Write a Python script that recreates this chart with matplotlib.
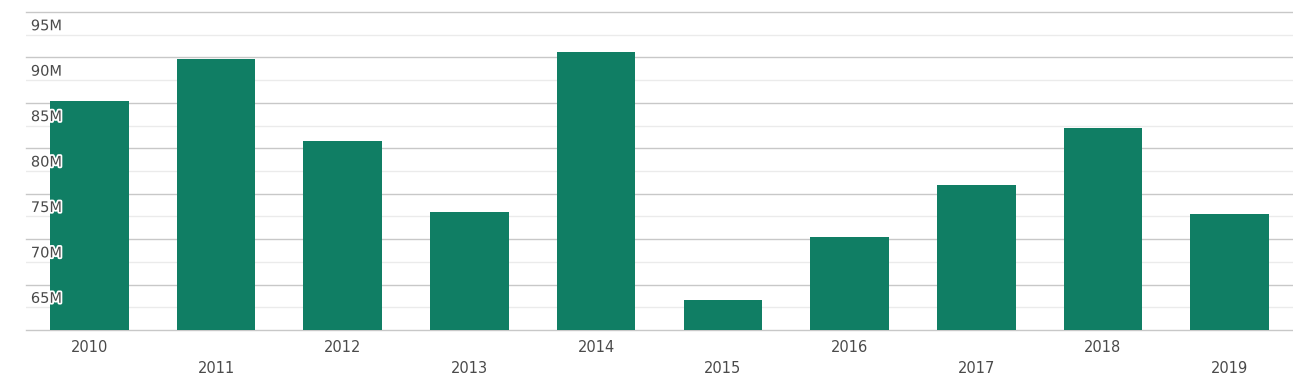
import matplotlib.pyplot as plt
import matplotlib.patheffects as pe
import numpy as np

# data
years = ['2010', '2011', '2012', '2013', '2014', '2015', '2016', '2017', '2018', '2019']
values = [85.2, 89.8, 80.8, 73.0, 90.6, 63.3, 70.2, 76.0, 82.2, 72.8]  # millions
y_ticks = [65, 70, 75, 80, 85, 90, 95]
y_minor = [62.5, 67.5, 72.5, 77.5, 82.5, 87.5, 92.5]

bar_color = '#107e64'
text_color = '#4a4a4a'

fig = plt.figure(figsize=(12.93, 3.84), dpi=100)
ax = fig.add_axes([26 / 1293, 54 / 384, 1 - 26 / 1293, 318 / 384])

x = np.arange(len(years))
ax.bar(x, values, width=0.62, color=bar_color, zorder=3)

ax.set_xlim(-0.5, len(years) - 0.5)
ax.set_ylim(60, 95)

# gridlines
for v in [60] + y_ticks:
    ax.axhline(v, color='#c8c8c8', lw=1, zorder=1, clip_on=False)
for v in y_minor:
    ax.axhline(v, color='#ebebeb', lw=1, zorder=1)

for s in ax.spines.values():
    s.set_visible(False)

# y labels inside, just under each major line
ax.set_yticks([])
for v in y_ticks:
    ax.annotate(f'{v}M', xy=(0, v), xycoords=('axes fraction', 'data'),
                xytext=(3.5, -4.5), textcoords='offset points',
                ha='left', va='top', fontsize=10.5, color=text_color, zorder=5,
                path_effects=[pe.withStroke(linewidth=2.5, foreground='white')])

# staggered x labels
ax.set_xticks(x)
ax.set_xticklabels(years, fontsize=10.5, color=text_color)
ax.tick_params(axis='x', length=0)
for i, t in enumerate(ax.xaxis.get_major_ticks()):
    t.set_pad(7.5 if i % 2 == 0 else 22)

fig.savefig('out.png', dpi=100)
